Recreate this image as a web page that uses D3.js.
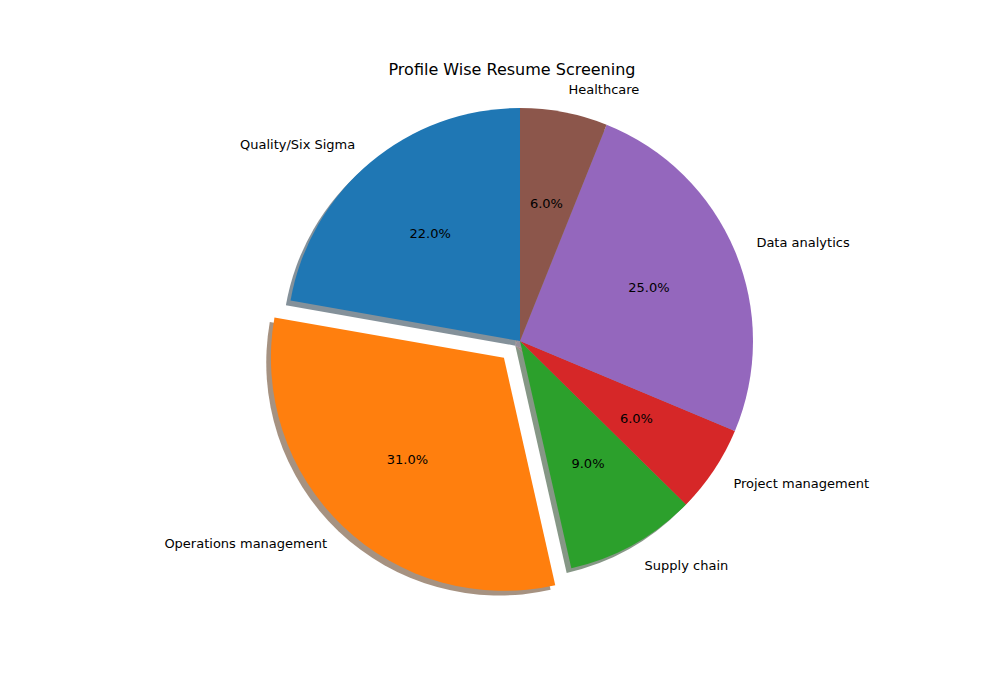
<!DOCTYPE html>
<html><head><meta charset="utf-8">
<script src="https://cdn.jsdelivr.net/npm/d3@7"></script>
<style>body{margin:0;background:#fff}</style></head>
<body><svg id="c" width="1000" height="695"></svg>
<script>
const categories=["Quality/Six Sigma","Operations management","Supply chain","Project management","Data analytics","Healthcare"];
const values=[22,31,9,6,25,6];
const explode=[0,0.1,0,0,0,0];
const colors=["#1f77b4","#ff7f0e","#2ca02c","#d62728","#9467bd","#8c564b"];
const title="Profile Wise Resume Screening";

const svg=d3.select("#c");
const cx=520,cy=341,R=233;
const font="DejaVu Sans, sans-serif";
svg.append("text").attr("x",512).attr("y",75).attr("text-anchor","middle")
  .attr("font-family",font).attr("font-size",16).text(title);
const pie=d3.pie().sort(null).startAngle(0).endAngle(-2*Math.PI);
const arcs=pie(values);
const arc=d3.arc().innerRadius(0).outerRadius(R);
const g=svg.append("g").attr("transform",`translate(${cx},${cy})`);
const off=d=>{const m=(d.startAngle+d.endAngle)/2,e=explode[d.index]*R;return [Math.sin(m)*e,-Math.cos(m)*e];};
const darken=c=>{const k=d3.rgb(c);return d3.rgb(k.r*0.3,k.g*0.3,k.b*0.3);};
g.selectAll(".sh").data(arcs).join("path").attr("d",arc)
  .attr("transform",d=>{const o=off(d);return `translate(${o[0]-0.02*R},${o[1]+0.02*R})`;})
  .attr("fill",d=>darken(colors[d.index])).attr("opacity",0.5);
g.selectAll(".w").data(arcs).join("path").attr("d",arc)
  .attr("transform",d=>{const o=off(d);return `translate(${o[0]},${o[1]})`;})
  .attr("fill",d=>colors[d.index]);
arcs.forEach(d=>{
  const m=(d.startAngle+d.endAngle)/2,o=off(d);
  const sx=Math.sin(m),sy=-Math.cos(m);
  g.append("text").attr("x",o[0]+sx*R*1.1).attr("y",o[1]+sy*R*1.1).attr("dy","0.35em")
   .attr("text-anchor",sx>0?"start":"end").attr("font-family",font).attr("font-size",13)
   .text(categories[d.index]);
  g.append("text").attr("x",o[0]+sx*R*0.6).attr("y",o[1]+sy*R*0.6).attr("dy","0.35em")
   .attr("text-anchor","middle").attr("font-family",font).attr("font-size",13)
   .text(values[d.index].toFixed(1)+"%");
});
</script></body></html>
